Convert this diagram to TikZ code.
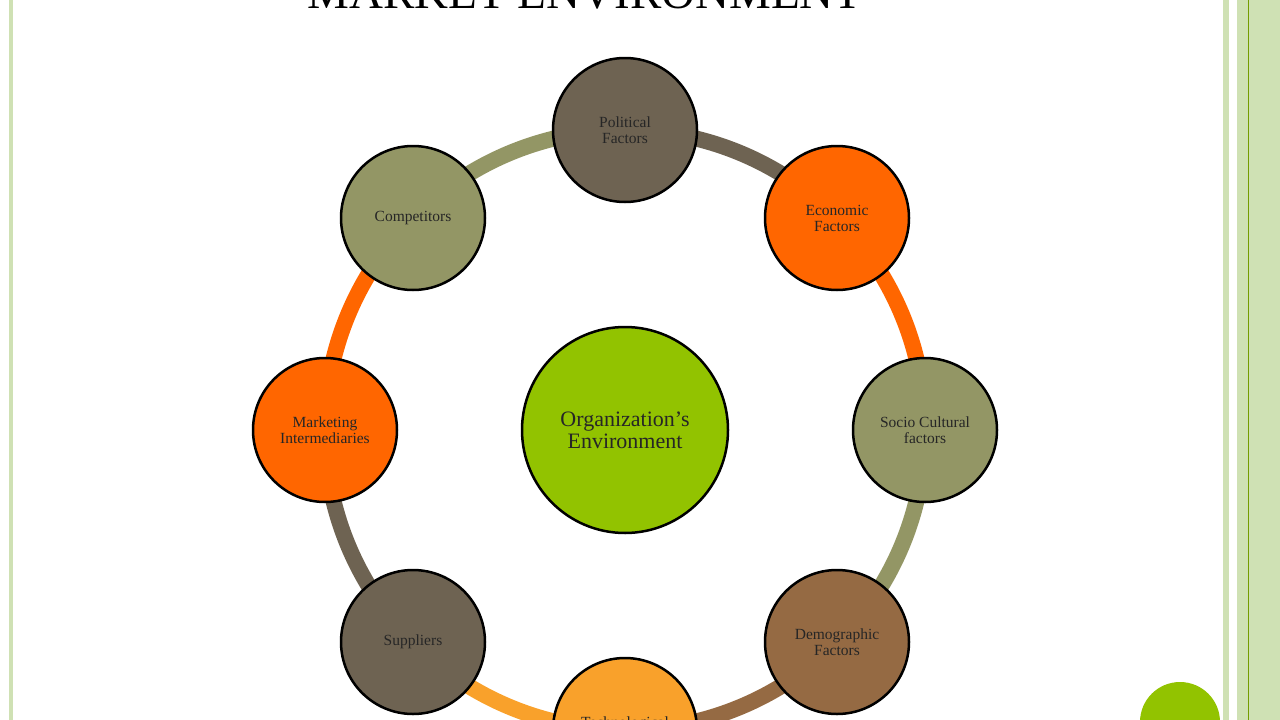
\documentclass[tikz,border=0pt]{standalone}
\usepackage{fontspec}
\setmainfont{Liberation Serif}
\begin{document}
\begin{tikzpicture}[x=1pt,y=-1pt,
  fac/.style={circle,draw=black,line width=2.5pt,minimum size=144pt,inner sep=0pt,align=center,font=\fontsize{15.5}{16}\selectfont,text=black!85},
  ring/.style={line width=16pt}]
\definecolor{cgray}{HTML}{6E6352}
\definecolor{corange}{HTML}{FF6600}
\definecolor{colive}{HTML}{939665}
\definecolor{cbrown}{HTML}{956A43}
\definecolor{cyell}{HTML}{F9A12B}
\definecolor{cgreen}{HTML}{92C300}
\definecolor{lgreen}{HTML}{CFE1B4}
\useasboundingbox (0,0) rectangle (1280,720);
\clip (0,0) rectangle (1280,720);
\fill[lgreen] (9,0) rectangle (13,720);
\fill[lgreen] (1223,0) rectangle (1229,720);
\fill[lgreen] (1237,0) rectangle (1280,720);
\draw[cgreen!80!black,line width=0.8pt] (1248.5,0) -- (1248.5,720);
\fill[cgreen] (1180,722) circle (40);
\node[font=\fontsize{47}{47}\selectfont,anchor=base] (title) at (585,9) {MARKET ENVIRONMENT};
% ring arcs
\foreach \a/\c in {90/cgray,45/corange,0/colive,-45/cbrown,-90/cyell,-135/cgray,180/corange,135/colive}{
  \draw[ring,\c] (625,430) ++(-\a:300) arc[start angle=-\a, end angle=-\a+45, radius=300];
}
\node[fac,fill=cgray] (pol) at (625,130) {Political\\Factors};
\node[fac,fill=corange] (eco) at (837,218) {Economic\\Factors};
\node[fac,fill=colive] (soc) at (925,430) {Socio Cultural\\factors};
\node[fac,fill=cbrown] (dem) at (837,642) {Demographic\\Factors};
\node[fac,fill=cyell] (tec) at (625,730) {Technological\\Factors};
\node[fac,fill=cgray] (sup) at (413,642) {Suppliers};
\node[fac,fill=corange] (mar) at (325,430) {Marketing\\Intermediaries};
\node[fac,fill=colive] (com) at (413,218) {Competitors};
\node[fac,fill=cgreen,minimum size=206pt,font=\fontsize{22}{22}\selectfont] (org) at (625,430) {Organization's\\Environment};
\end{tikzpicture}
\end{document}
